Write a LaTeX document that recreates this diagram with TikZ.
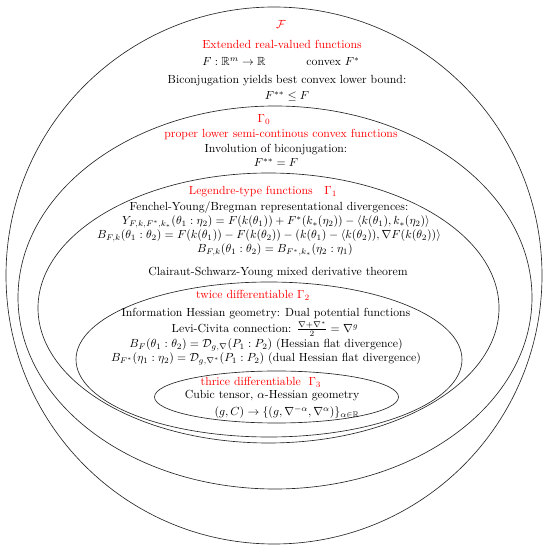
\documentclass[tikz,border=0pt]{standalone}
\usepackage{amsmath,amssymb}
\begin{document}
\begin{tikzpicture}[x=0.85pt,y=-0.85pt,
  ring/.style={draw=black!85,line width=0.55pt},
  lbl/.style={anchor=base,inner sep=0pt,font=\normalsize},
  redlbl/.style={lbl,text=red}]
\useasboundingbox (0,0) rectangle (550,548);
% nested sets
\coordinate (cF) at (274,275.5);
\coordinate (c0) at (275,297.5);
\coordinate (c1) at (268.5,308);
\coordinate (c2) at (269,359.5);
\coordinate (c3) at (276.5,397);
\draw[ring] (cF) ellipse [x radius=268,y radius=268.5];
\draw[ring] (c0) ellipse [x radius=257,y radius=191.5];
\draw[ring] (c1) ellipse [x radius=230.5,y radius=135];
\draw[ring] (c2) ellipse [x radius=193,y radius=77.5];
\draw[ring] (c3) ellipse [x radius=122,y radius=26];
% F
\node[redlbl] (tF) at (281,28.5) {$\mathcal{F}$};
\node[redlbl] (ext) at (282,49) {Extended real-valued functions};
\node[lbl] (map) at (234,66) {$F:\mathbb{R}^m\rightarrow\mathbb{R}$};
\node[lbl] (conv) at (333,66) {convex $F^*$};
\node[lbl] (bicon) at (287,84) {Biconjugation yields best convex lower bound:};
\node[lbl] (ineq) at (287,99.5) {$F^{**}\leq F$};
% Gamma0
\node[redlbl] (g0) at (264,123) {$\Gamma_0$};
\node[redlbl] (proper) at (281,137.5) {proper lower semi-continous convex functions};
\node[lbl] (invol) at (276,152.5) {Involution of biconjugation:};
\node[lbl] (eq) at (276,166.5) {$F^{**}=F$};
% Gamma1
\node[redlbl] (leg) at (263,194.5) {Legendre-type functions\quad $\Gamma_1$};
\node[lbl] (fy) at (269,211) {Fenchel-Young/Bregman representational divergences:};
\node[lbl] (yline) at (276,224.5) {$Y_{F,k,F^*,k_*}(\theta_1:\eta_2)=F(k(\theta_1))+F^*(k_*(\eta_2))-\langle k(\theta_1),k_*(\eta_2)\rangle$};
\node[lbl] (bline) at (269,239) {$B_{F,k}(\theta_1:\theta_2)=F(k(\theta_1))-F(k(\theta_2))-(k(\theta_1)-\langle k(\theta_2)),\nabla F(k(\theta_2))\rangle$};
\node[lbl] (bbline) at (275,253) {$B_{F,k}(\theta_1:\theta_2)=B_{F^*,k_*}(\eta_2:\eta_1)$};
\node[lbl] (cl) at (278,275.5) {Clairaut-Schwarz-Young mixed derivative theorem};
% Gamma2
\node[redlbl] (g2) at (253,298.5) {twice differentiable $\Gamma_2$};
\node[lbl] (info) at (266,316.5) {Information Hessian geometry: Dual potential functions};
\node[lbl] (lc) at (265,332.5) {Levi-Civita connection: $\frac{\nabla+\nabla^*}{2}=\nabla^g$};
\node[lbl] (bf) at (266,347.5) {$B_F(\theta_1:\theta_2)=\mathcal{D}_{g,\nabla}(P_1:P_2)$ (Hessian flat divergence)};
\node[lbl] (bfs) at (266,361.5) {$B_{F^*}(\eta_1:\eta_2)=\mathcal{D}_{g,\nabla^*}(P_1:P_2)$ (dual Hessian flat divergence)};
% Gamma3
\node[redlbl] (g3) at (261,385.5) {thrice differentiable\ \ $\Gamma_3$};
\node[lbl] (cubic) at (272,398.5) {Cubic tensor, $\alpha$-Hessian geometry};
\node[lbl] (gc) at (287,415.5) {$(g,C)\rightarrow\{(g,\nabla^{-\alpha},\nabla^\alpha)\}_{\alpha\in\mathbb{R}}$};
\end{tikzpicture}
\end{document}
